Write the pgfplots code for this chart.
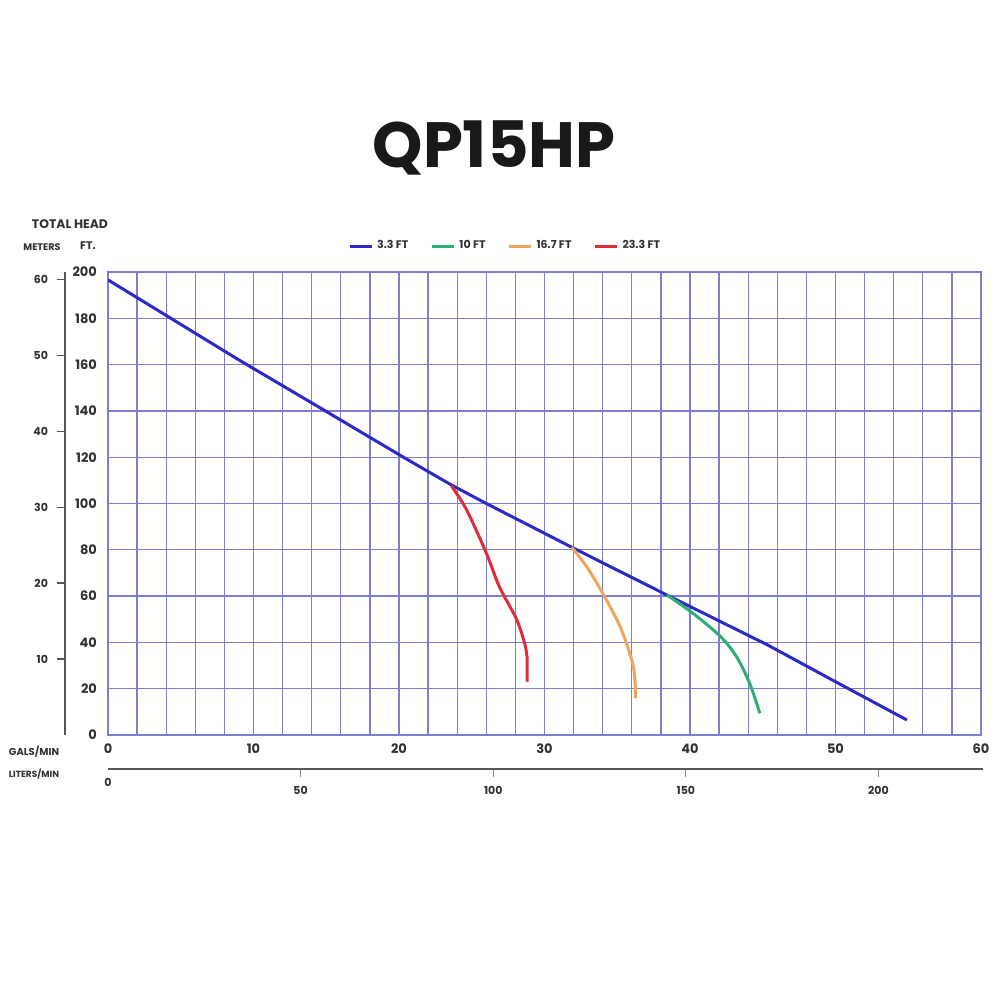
\documentclass[border=0pt]{standalone}
\usepackage{pgfplots}
\pgfplotsset{compat=1.18}
\usepackage{fontspec}
\setmainfont{Poppins}
\definecolor{gridc}{RGB}{125,125,210}
\definecolor{textc}{RGB}{50,50,50}
\definecolor{axc}{RGB}{85,85,90}
\definecolor{cblue}{RGB}{45,40,200}
\definecolor{cgreen}{RGB}{45,175,115}
\definecolor{corange}{RGB}{240,165,95}
\definecolor{cred}{RGB}{225,45,55}
\begin{document}
\begin{tikzpicture}
\useasboundingbox[fill=white] (0,0) rectangle (500pt,500pt);
% title
\node[font=\fontsize{32}{34}\selectfont\bfseries, text=black!90] at (247pt,426pt) {QP15HP};
% side labels
\node[font=\fontsize{6.2}{7}\selectfont\bfseries, text=textc] at (35pt,388pt) {TOTAL HEAD};
\node[font=\fontsize{4.8}{6}\selectfont\bfseries, text=textc] at (21pt,376.5pt) {METERS};
\node[font=\fontsize{5.5}{6}\selectfont\bfseries, text=textc] at (44pt,377pt) {FT.};
\node[font=\fontsize{5}{6}\selectfont\bfseries, text=textc] at (17pt,124pt) {GALS/MIN};
\node[font=\fontsize{4.5}{6}\selectfont\bfseries, text=textc] at (17pt,113pt) {LITERS/MIN};

\begin{axis}[
  scale only axis, width=436.5pt, height=231.5pt,
  at={(54pt,132.5pt)}, anchor=south west,
  xmin=0, xmax=60, ymin=0, ymax=200,
  xtick={0,10,...,60}, ytick={0,20,...,200},
  minor xtick={2,4,...,58},
  grid=both,
  major grid style={gridc, line width=0.65pt},
  minor grid style={gridc, line width=0.65pt},
  major tick length=0pt, minor tick length=0pt,
  axis line style={gridc, line width=0.8pt},
  tick label style={font=\fontsize{6.5}{7}\selectfont\bfseries, text=textc},
  /pgf/number format/assume math mode=true,
  xticklabel style={yshift=-1pt},
  yticklabel style={xshift=-2pt},
  legend columns=4,
  legend style={at={(0.456,1.056)}, anchor=center, draw=none, fill=none,
    font=\fontsize{5.5}{6}\selectfont\bfseries, text=textc,
    /tikz/every even column/.append style={column sep=9pt},
    inner sep=0pt},
  legend image code/.code={\draw[#1] (0pt,0pt) -- (11pt,0pt);},
]
\addplot[cblue, line width=1.5pt] coordinates {
 (0,196.6) (9,162) (14.8,140.5) (20.3,120) (23.6,108) (26,100)
 (31.9,81) (38.4,60.5) (45.3,39) (50.3,22) (54.9,6.5)};
\addlegendentry{3.3 FT}
\addplot[cgreen, line width=1.5pt, smooth] coordinates {
 (38.4,60.5) (40.2,52.6) (42.1,42.5) (43.2,33.8) (44.1,22.3) (44.8,9.4)};
\addlegendentry{10 FT}
\addplot[corange, line width=1.5pt, smooth] coordinates {
 (31.87,81.1) (32.9,72.7) (34.0,61.2) (35.2,46.8) (36.0,32.4) (36.2,25.2) (36.27,15.8)};
\addlegendentry{16.7 FT}
\addplot[cred, line width=1.5pt, smooth] coordinates {
 (23.6,107.6) (24.65,97.2) (26.0,78.6) (26.9,64) (28.1,49.7) (28.7,38.1) (28.8,33.8) (28.8,23)};
\addlegendentry{23.3 FT}
\end{axis}

% meters axis
\begin{axis}[
  scale only axis, width=1pt, height=231.5pt,
  at={(32.5pt,132.5pt)}, anchor=south west,
  xmin=0, xmax=1, ymin=0, ymax=60.96,
  axis y line=left, axis x line=none,
  axis line style={-, axc, line width=1.4pt},
  ytick={10,20,...,60},
  tick align=outside, major tick length=4pt,
  tick style={axc, line width=0.6pt},
  tick label style={font=\fontsize{5.5}{6}\selectfont\bfseries, text=textc},
  /pgf/number format/assume math mode=true,
  yticklabel style={xshift=-1pt},
]
\end{axis}

% liters axis
\begin{axis}[
  scale only axis, width=437.5pt, height=1pt,
  at={(54pt,115.5pt)}, anchor=south west,
  xmin=0, xmax=227.12, ymin=0, ymax=1,
  axis x line=bottom, axis y line=none,
  axis line style={-, axc, line width=1.2pt},
  xtick={50,100,150,200},
  extra x ticks={0}, extra x tick style={major tick length=0pt},
  tick align=outside, major tick length=4pt,
  tick style={axc!70, line width=0.5pt},
  tick label style={font=\fontsize{5.5}{6}\selectfont\bfseries, text=textc},
  /pgf/number format/assume math mode=true,
  xticklabel style={yshift=-1pt},
]
\end{axis}
\end{tikzpicture}
\end{document}
